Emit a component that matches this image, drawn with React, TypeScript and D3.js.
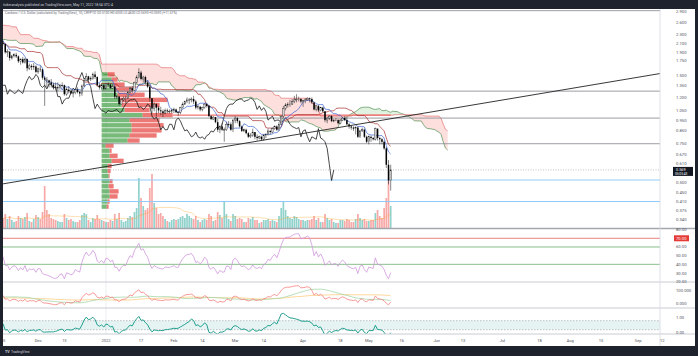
import React from 'react';
import * as d3 from 'd3';

// ---------- DATA ----------
const historyStart = '2021-08-28'; // daily closes before visible range (used for indicator look-back)
const historyClose = [
  2.88, 2.84, 2.78, 2.77,
  2.86, 2.94, 2.8, 2.87, 2.88, 2.76, 2.45, 2.52, 2.57, 2.52, 2.64, 2.57, 2.44, 2.4, 2.47, 2.42, 2.38, 2.37, 2.35, 2.16, 2.1, 2.22, 2.29, 2.28, 2.26, 2.25, 2.17, 2.1, 2.1, 2.13,
  2.24, 2.26, 2.3, 2.25, 2.25, 2.21, 2.3, 2.27, 2.27, 2.15, 2.15, 2.15, 2.16, 2.19, 2.18, 2.17, 2.12, 2.14, 2.14, 2.17, 2.13, 2.08, 2.1, 2.09, 2.18, 2.14, 1.98, 1.94, 2.0, 1.96, 1.96,
  1.97, 2.04, 1.97, 1.97, 1.98, 1.98, 2.01, 2.28, 2.25, 2.17, 2.15, 2.04, 2.08,
];

// visible candles: 2021-11-14 .. 2022-05-11
const closes = [
  2.1, 2.08, 1.91, 1.92, 1.8, 1.84, 1.86, 1.83, 1.74, 1.78, 1.72, 1.78, 1.62, 1.66, 1.64, 1.65, 1.56,
  1.61, 1.6, 1.47, 1.44, 1.43, 1.4, 1.37, 1.33, 1.32, 1.33, 1.36, 1.36, 1.24, 1.3, 1.28, 1.25, 1.26, 1.3, 1.27, 1.25, 1.35, 1.43, 1.49, 1.44, 1.46, 1.52, 1.48, 1.36, 1.33, 1.36, 1.31,
  1.38, 1.37, 1.32, 1.34, 1.21, 1.21, 1.12, 1.17, 1.19, 1.19, 1.26, 1.32, 1.29, 1.4, 1.47, 1.55, 1.45, 1.48, 1.4, 1.34, 1.19, 1.07, 1.12, 1.08, 1.05, 1.04, 1.02, 1.05, 1.04, 1.04, 1.05,
  1.06, 1.03, 1.03, 1.08, 1.12, 1.15, 1.17, 1.17, 1.18, 1.15, 1.08, 1.09, 1.06, 1.08, 1.12, 1.1, 0.99, 0.96, 0.98, 0.93, 0.86, 0.89, 0.86, 0.86, 0.91, 0.91, 0.86, 0.95,
  0.97, 0.94, 0.89, 0.85, 0.86, 0.83, 0.8, 0.81, 0.84, 0.8, 0.79, 0.8, 0.78, 0.81, 0.82, 0.85, 0.84, 0.87, 0.89, 0.86, 0.91, 0.99, 1.07, 1.11, 1.12, 1.12, 1.15, 1.17, 1.18, 1.18, 1.15,
  1.16, 1.17, 1.19, 1.18, 1.14, 1.06, 1.1, 1.05, 1.08, 1.04, 0.95, 0.97, 0.99, 0.94, 0.95, 0.95, 0.92, 0.95, 0.97, 0.95, 0.91, 0.89, 0.88, 0.87, 0.88, 0.8, 0.85, 0.86, 0.8, 0.76,
  0.8, 0.79, 0.78, 0.87, 0.79, 0.78, 0.76, 0.71, 0.6, 0.51, 0.569,
];
const highs = [
  2.13, 2.16, 2.09, 1.97, 1.93, 1.86, 1.89, 1.9, 1.85, 1.79, 1.82, 1.8, 1.79, 1.7, 1.69, 1.71, 1.67,
  1.63, 1.66, 1.61, 1.49, 1.48, 1.44, 1.45, 1.4, 1.4, 1.4, 1.38, 1.4, 1.37, 1.33, 1.35, 1.31, 1.29, 1.32, 1.33, 1.28, 1.37, 1.46, 1.54, 1.5, 1.49, 1.55, 1.57, 1.49, 1.39, 1.38, 1.38,
  1.39, 1.4, 1.38, 1.37, 1.35, 1.23, 1.22, 1.19, 1.21, 1.22, 1.28, 1.34, 1.35, 1.41, 1.51, 1.62, 1.58, 1.5, 1.5, 1.43, 1.37, 1.19, 1.14, 1.13, 1.1, 1.09, 1.06, 1.07, 1.07, 1.06, 1.07,
  1.08, 1.07, 1.04, 1.09, 1.14, 1.16, 1.2, 1.19, 1.2, 1.22, 1.17, 1.11, 1.1, 1.09, 1.13, 1.13, 1.11, 1.0, 0.99, 0.98, 0.96, 0.9, 0.92, 0.88, 0.93, 0.94, 0.93, 0.96,
  0.99, 0.98, 0.95, 0.9, 0.87, 0.87, 0.84, 0.83, 0.87, 0.84, 0.82, 0.81, 0.81, 0.82, 0.83, 0.87, 0.86, 0.88, 0.9, 0.9, 0.93, 1.0, 1.1, 1.13, 1.14, 1.17, 1.18, 1.22, 1.24, 1.21, 1.19,
  1.17, 1.19, 1.2, 1.2, 1.2, 1.14, 1.11, 1.11, 1.09, 1.09, 1.04, 0.98, 1.0, 1.0, 0.96, 0.97, 0.96, 0.96, 0.98, 0.99, 0.98, 0.92, 0.9, 0.89, 0.89, 0.89, 0.86, 0.88, 0.87, 0.81,
  0.81, 0.81, 0.8, 0.88, 0.87, 0.8, 0.79, 0.77, 0.72, 0.63, 0.6,
];
const lows = [
  2.02, 2.05, 1.88, 1.82, 1.75, 1.77, 1.81, 1.8, 1.71, 1.68, 1.7, 1.7, 1.57, 1.59, 1.59, 1.59, 1.54,
  1.53, 1.56, 1.44, 1.1, 1.33, 1.33, 1.33, 1.3, 1.29, 1.28, 1.3, 1.33, 1.22, 1.22, 1.25, 1.24, 1.2, 1.24, 1.25, 1.21, 1.22, 1.34, 1.42, 1.41, 1.42, 1.44, 1.45, 1.34, 1.3, 1.3, 1.29,
  1.3, 1.34, 1.31, 1.31, 1.18, 1.18, 1.1, 1.12, 1.15, 1.13, 1.18, 1.25, 1.26, 1.28, 1.38, 1.46, 1.43, 1.4, 1.37, 1.32, 1.15, 1.02, 1.04, 0.99, 1.02, 1.0, 0.98, 1.01, 1.02, 1.02, 1.02,
  1.02, 1.02, 0.99, 1.01, 1.07, 1.11, 1.13, 1.12, 1.14, 1.12, 1.06, 1.06, 1.04, 1.04, 1.07, 1.08, 0.98, 0.95, 0.95, 0.92, 0.84, 0.83, 0.85, 0.76, 0.85, 0.89, 0.85, 0.84,
  0.92, 0.92, 0.88, 0.84, 0.84, 0.82, 0.79, 0.79, 0.8, 0.78, 0.77, 0.78, 0.77, 0.77, 0.79, 0.81, 0.82, 0.83, 0.86, 0.85, 0.85, 0.9, 0.97, 1.05, 1.08, 1.09, 1.11, 1.13, 1.14, 1.15, 1.13,
  1.09, 1.13, 1.16, 1.14, 1.12, 1.05, 1.04, 1.03, 1.04, 1.03, 0.93, 0.92, 0.95, 0.93, 0.93, 0.94, 0.91, 0.91, 0.94, 0.94, 0.9, 0.87, 0.86, 0.85, 0.82, 0.79, 0.79, 0.84, 0.79, 0.75,
  0.74, 0.76, 0.77, 0.77, 0.77, 0.74, 0.74, 0.7, 0.58, 0.49, 0.46,
];
const volumes = [
  8, 10, 14, 9, 12, 8, 6, 7, 12, 10, 9, 11, 15, 7, 6, 9, 13,
  11, 9, 16, 42, 18, 14, 10, 9, 8, 7, 6, 6, 14, 10, 8, 9, 7, 6, 6, 8, 13, 15, 14, 8, 6, 10, 9, 13, 9, 8, 7,
  6, 6, 8, 7, 14, 9, 15, 8, 6, 7, 10, 12, 11, 16, 20, 50, 30, 22, 18, 20, 40, 54, 25, 20, 14, 15, 12, 9, 7, 6, 8,
  9, 8, 9, 11, 12, 10, 14, 12, 10, 9, 12, 8, 6, 8, 9, 8, 14, 12, 7, 8, 16, 13, 10, 26, 14, 9, 7, 14,
  12, 9, 10, 9, 6, 6, 10, 9, 11, 8, 8, 5, 6, 8, 8, 9, 7, 8, 7, 6, 12, 20, 27, 18, 12, 10, 9, 12, 11, 9, 8,
  8, 7, 8, 8, 9, 12, 8, 10, 6, 6, 14, 10, 8, 9, 6, 5, 5, 8, 8, 7, 9, 8, 6, 6, 9, 14, 10, 8, 9, 7,
  7, 8, 8, 15, 18, 12, 10, 20, 30, 47, 22,
];

// fixed-range volume profile (rows from top price to bottom price)
const profileStart = '2021-12-30';
const profileTop = 1.56;
const profileBottom = 0.38;
const profileUp = [6, 10, 12, 14, 16, 18, 20, 23, 41, 28, 30, 30, 28, 26, 4, 8, 8, 10, 6, 6, 7, 8, 7, 8, 8, 6, 5];
const profileDown = [7, 6, 11, 17, 27, 48, 38, 25, 30, 30, 32, 30, 27, 12, 8, 2, 8, 12, 4, 3, 1, 3, 5, 9, 8, 2, 2];

// drawings
const hLevels = [2.93, 1.28, 0.97, 0.745];
const blueLevels = [0.513, 0.411];
const trendLine = [
  { date: '2021-11-15', price: 0.493 },
  { date: '2022-09-12', price: 1.54 },
];
const lastPrice = 0.569;

// axes
const priceTicks = [2.9, 2.6, 2.3, 2.1, 1.9, 1.75, 1.5, 1.35, 1.2, 1.05, 0.95, 0.85, 0.75, 0.67, 0.61, 0.5, 0.45, 0.41, 0.375, 0.34];
const rsiTicks = [80, 60, 50, 40, 30, 20];
const rsiLevelsRed = [70];
const rsiLevelsGreen = [60, 40];
const oscTicks = [100, 0];
const pbTicks = [1, 0];
const pbBand = [0.8, 0.2];
const timeTicks: [string, string][] = [
  ['2021-11-15', '15'], ['2021-12-01', 'Dec'], ['2021-12-13', '13'], ['2022-01-01', '2022'], ['2022-01-17', '17'],
  ['2022-02-01', 'Feb'], ['2022-02-14', '14'], ['2022-03-01', 'Mar'], ['2022-03-14', '14'], ['2022-04-01', 'Apr'],
  ['2022-04-18', '18'], ['2022-05-01', 'May'], ['2022-05-16', '16'], ['2022-06-01', 'Jun'], ['2022-06-13', '13'],
  ['2022-07-01', 'Jul'], ['2022-07-18', '18'], ['2022-08-01', 'Aug'], ['2022-08-15', '15'], ['2022-09-01', 'Sep'], ['2022-09-12', '12'],
];

const headerText = 'tickeranalysis published on TradingView.com, May 11, 2022 18:54 UTC-4';
const legendText = 'Cardano / U.S. Dollar (calculated by TradingView), 1D, CRYPTO   O0.5100 H0.6000 L0.4600 C0.5690 +0.0590 (+11.57%)';

// ---------- HELPERS ----------
const DAY = 86400000;
const parse = (s: string) => new Date(s + 'T00:00:00Z');

function rsiCalc(c: number[], n: number) {
  const out = new Array(c.length).fill(NaN);
  let ag = 0, al = 0;
  for (let i = 1; i < c.length; i++) {
    const d = c[i] - c[i - 1];
    const g = Math.max(d, 0), l = Math.max(-d, 0);
    if (i <= n) {
      ag += g / n; al += l / n;
      if (i === n) out[i] = al === 0 ? 100 : 100 - 100 / (1 + ag / al);
    } else {
      ag = (ag * (n - 1) + g) / n; al = (al * (n - 1) + l) / n;
      out[i] = al === 0 ? 100 : 100 - 100 / (1 + ag / al);
    }
  }
  return out;
}
function sma(a: number[], n: number) {
  return a.map((_, i) => {
    if (i < n - 1) return NaN;
    const w = a.slice(i - n + 1, i + 1);
    if (w.some((v) => !Number.isFinite(v))) return NaN;
    return d3.mean(w) as number;
  });
}
function midHL(h: number[], l: number[], n: number) {
  return h.map((_, i) => (i < n - 1 ? NaN : ((d3.max(h.slice(i - n + 1, i + 1)) as number) + (d3.min(l.slice(i - n + 1, i + 1)) as number)) / 2));
}

export default function App() {
  const H0 = historyClose.length;
  const allC = historyClose.concat(closes);
  const allH = historyClose.concat(highs);
  const allL = historyClose.concat(lows);
  const N = allC.length;
  const t0 = parse(historyStart).getTime();
  const dateAt = (i: number) => new Date(t0 + i * DAY);

  const L = 3, R = 660;
  const x = d3.scaleUtc().domain([parse('2022-01-01'), parse('2022-09-12')]).range([106, 106 + 254 * 2.19]);
  const xi = (i: number) => x(dateAt(i));
  const yP = d3.scaleLog().domain([0.313, 2.95]).range([228, 10]);
  const yV = d3.scaleLinear().domain([0, 55]).range([228, 173]);
  const yR = d3.scaleLinear().domain([20.8, 80.7]).range([281, 229]);
  const yO = d3.scaleLinear().domain([20, 80]).range([306, 284]);
  const yOlab = d3.scaleLinear().domain([0, 100]).range([303, 290]);
  const yB = d3.scaleLinear().domain([0, 1]).range([332.7, 317.7]);

  // indicators
  const tenkan = midHL(allH, allL, 9);
  const kijun = midHL(allH, allL, 26);
  const spanA = tenkan.map((t, i) => (t + kijun[i]) / 2);
  const spanB = midHL(allH, allL, 52);
  const rsi = rsiCalc(allC, 14);
  const rsiFast = sma(rsi, 20);
  const rsiSlow = sma(rsi, 50);
  const basis = sma(allC, 20);
  const pctB = allC.map((c, i) => {
    if (i < 19) return NaN;
    const w = allC.slice(i - 19, i + 1);
    const sd = Math.sqrt(d3.mean(w.map((v) => (v - basis[i]) ** 2)) as number);
    return (c - (basis[i] - 2 * sd)) / (4 * sd);
  });
  const volMA = volumes.map((_, i) => d3.mean(volumes.slice(Math.max(0, i - 19), i + 1)) as number);

  const vis = d3.range(H0, N);
  const mk = (idx: number[], xf: (i: number) => number, yf: (i: number) => number) =>
    d3.line<number>().defined((i) => Number.isFinite(yf(i))).x(xf).y(yf)(idx) || '';

  // cloud (shifted forward 26)
  const cloudIdx = d3.range(H0 - 1, N + 26);
  const cA = (p: number) => spanA[p - 26];
  const cB = (p: number) => spanB[p - 26];
  const cloudDef = (p: number) => Number.isFinite(cA(p)) && Number.isFinite(cB(p));
  const greenCloud = d3.area<number>().defined(cloudDef).x(xi).y0((p) => yP(cB(p))).y1((p) => yP(Math.max(cA(p), cB(p))))(cloudIdx) || '';
  const pinkCloud = d3.area<number>().defined(cloudDef).x(xi).y0((p) => yP(cA(p))).y1((p) => yP(Math.max(cA(p), cB(p))))(cloudIdx) || '';

  // profile
  const nRows = profileUp.length;
  const lt = Math.log(profileTop), lb = Math.log(profileBottom);
  const edges = d3.range(nRows + 1).map((k) => Math.exp(lt + ((lb - lt) * k) / nRows));
  const totals = profileUp.map((u, k) => u + profileDown[k]);
  const wS = d3.scaleLinear().domain([0, d3.max(totals) as number]).range([0, 71]);
  const px0 = x(parse(profileStart));
  const poc = totals.indexOf(d3.max(totals) as number);
  const pocY = (yP(edges[poc]) + yP(edges[poc + 1])) / 2;

  const font = 'Roboto, "Liberation Sans", sans-serif';
  const axisCol = '#50535e';
  const bw = 1.5;

  return (
    <svg width={698} height={356} style={{ position: 'absolute', left: 0, top: 0, background: '#fff' }} fontFamily={font}>
      <defs>
        <clipPath id="cMain"><rect x={L} y={10} width={R - L} height={218} /></clipPath>
        <clipPath id="cRsi"><rect x={L} y={229} width={R - L} height={52} /></clipPath>
        <clipPath id="cOsc"><rect x={L} y={283} width={R - L} height={24} /></clipPath>
        <clipPath id="cPb"><rect x={L} y={309} width={R - L} height={25} /></clipPath>
      </defs>
      <rect x={0} y={0} width={698} height={356} fill="#fff" />

      {/* year separator */}
      <line x1={x(parse('2022-01-01'))} x2={x(parse('2022-01-01'))} y1={9} y2={334} stroke="#e6e8ee" strokeWidth={0.8} />

      {/* ---------- main pane ---------- */}
      <g clipPath="url(#cMain)">
        {/* volume */}
        {vis.map((i) => {
          const k = i - H0;
          const up = allC[i] >= allC[i - 1];
          return (
            <rect key={'v' + i} x={xi(i) - 0.85} y={yV(volumes[k])} width={1.7} height={228 - yV(volumes[k])}
              fill={up ? 'rgba(38,166,154,0.5)' : 'rgba(239,83,80,0.5)'} />
          );
        })}
        <path d={mk(vis, xi, (i) => yV(volMA[i - H0]))} fill="none" stroke="rgba(255,152,0,0.45)" strokeWidth={0.7} />

        {/* cloud */}
        <path d={pinkCloud} fill="rgba(244,67,54,0.17)" />
        <path d={greenCloud} fill="rgba(76,175,80,0.17)" />
        <path d={mk(cloudIdx, xi, (p) => yP(cA(p)))} fill="none" stroke="#4f8f50" strokeWidth={0.7} />
        <path d={mk(cloudIdx, xi, (p) => yP(cB(p)))} fill="none" stroke="#e57373" strokeWidth={0.7} />

        {/* volume profile */}
        {profileUp.map((u, k) => {
          const yt = yP(edges[k]) + 0.35;
          const h = yP(edges[k + 1]) - yP(edges[k]) - 0.7;
          return (
            <g key={'pr' + k}>
              <rect x={px0} y={yt} width={wS(u)} height={h} fill="rgba(67,160,71,0.72)" />
              <rect x={px0 + wS(u)} y={yt} width={wS(profileDown[k])} height={h} fill="rgba(229,57,53,0.68)" />
            </g>
          );
        })}
        <line x1={px0 + wS(totals[poc])} x2={xi(N - 1)} y1={pocY} y2={pocY} stroke="#ef5350" strokeWidth={1} />

        {/* levels */}
        {hLevels.map((p) => <line key={'h' + p} x1={L} x2={R} y1={yP(p)} y2={yP(p)} stroke="#8f929b" strokeWidth={0.9} />)}
        {blueLevels.map((p) => <line key={'b' + p} x1={L} x2={R} y1={yP(p)} y2={yP(p)} stroke="#90caf9" strokeWidth={1} />)}
        <line x1={L} x2={R} y1={yP(lastPrice)} y2={yP(lastPrice)} stroke="#9598a1" strokeWidth={0.6} strokeDasharray="1 1.5" />

        {/* ichimoku lines */}
        <path d={mk(d3.range(H0, N + 26), (i) => xi(i - 26), (i) => (i < N ? yP(allC[i]) : NaN))} fill="none" stroke="#1a1a1a" strokeWidth={0.8} />
        <path d={mk(vis, xi, (i) => yP(kijun[i]))} fill="none" stroke="#a52a2a" strokeWidth={0.7} />
        <path d={mk(vis, xi, (i) => yP(tenkan[i]))} fill="none" stroke="#3b63d4" strokeWidth={0.7} />

        {/* candles */}
        {vis.map((i) => {
          const o = allC[i - 1], c = allC[i];
          const k = i - H0;
          const hi = Math.max(highs[k], o, c), lo = Math.min(lows[k], o, c);
          const up = c >= o;
          const cx = xi(i);
          const yt = yP(Math.max(o, c)), yb = yP(Math.min(o, c));
          return (
            <g key={'c' + i}>
              <line x1={cx} x2={cx} y1={yP(hi)} y2={yP(lo)} stroke="#111" strokeWidth={0.5} />
              <rect x={cx - bw / 2} y={yt} width={bw} height={Math.max(0.6, yb - yt)}
                fill={up ? '#d8d8d8' : '#000'} stroke="#111" strokeWidth={up ? 0.35 : 0} />
            </g>
          );
        })}

        {/* trend line */}
        <line x1={x(parse(trendLine[0].date))} y1={yP(trendLine[0].price)} x2={x(parse(trendLine[1].date))} y2={yP(trendLine[1].price)}
          stroke="#222" strokeWidth={0.9} />
      </g>

      {/* ---------- RSI pane ---------- */}
      <g clipPath="url(#cRsi)">
        {rsiLevelsRed.map((v) => <line key={'rr' + v} x1={L} x2={R} y1={yR(v)} y2={yR(v)} stroke="#e57373" strokeWidth={0.9} />)}
        {rsiLevelsGreen.map((v) => <line key={'rg' + v} x1={L} x2={R} y1={yR(v)} y2={yR(v)} stroke="#7cb87e" strokeWidth={0.9} />)}
        <path d={mk(vis, xi, (i) => yR(rsi[i]))} fill="none" stroke="#cf98dc" strokeWidth={0.8} />
      </g>

      {/* ---------- oscillator pane ---------- */}
      <g clipPath="url(#cOsc)">
        <path d={mk(vis, xi, (i) => yO(rsiSlow[i]))} fill="none" stroke="#ffcc80" strokeWidth={0.8} />
        <path d={mk(vis, xi, (i) => yO(rsiFast[i]))} fill="none" stroke="#a5d6a7" strokeWidth={0.8} />
        <path d={mk(vis, xi, (i) => yO(rsi[i]))} fill="none" stroke="#f4817f" strokeWidth={0.8} />
      </g>

      {/* ---------- %B pane ---------- */}
      <g clipPath="url(#cPb)">
        <rect x={L} y={yB(pbBand[0])} width={R - L} height={yB(pbBand[1]) - yB(pbBand[0])} fill="rgba(38,166,154,0.12)" />
        {pbBand.map((v) => <line key={'pb' + v} x1={L} x2={R} y1={yB(v)} y2={yB(v)} stroke="#9598a1" strokeWidth={0.6} strokeDasharray="1.5 1.5" />)}
        <path d={mk(vis, xi, (i) => yB(pctB[i]))} fill="none" stroke="#22a08f" strokeWidth={1} />
      </g>

      {/* pane separators */}
      <line x1={L} x2={695} y1={228.5} y2={228.5} stroke="#a3a6af" strokeWidth={1.6} />
      <line x1={L} x2={695} y1={282} y2={282} stroke="#c9ccd4" strokeWidth={1} />
      <line x1={L} x2={695} y1={308} y2={308} stroke="#c9ccd4" strokeWidth={1} />
      <line x1={L} x2={695} y1={334} y2={334} stroke="#c9ccd4" strokeWidth={1} />
      <line x1={R} x2={R} y1={9} y2={346} stroke="#d6d8de" strokeWidth={0.8} />

      {/* price axis */}
      <g fontSize={4.2} fill={axisCol}>
        {priceTicks.map((p) => <text key={'pt' + p} x={676} y={yP(p) + 1.5}>{p.toFixed(3)}</text>)}
      </g>
      <rect x={673} y={yP(lastPrice) - 3} width={20} height={9} fill="#131722" />
      <text x={676} y={yP(lastPrice) + 0.8} fontSize={3.8} fill="#fff">{lastPrice.toFixed(3)}</text>
      <text x={675} y={yP(lastPrice) + 4.8} fontSize={3.2} fill="#fff">05:05:43</text>

      <g fontSize={4.2} fill={axisCol}>
        {rsiTicks.map((v) => <text key={'rt' + v} x={676} y={yR(v) + 1.5}>{v.toFixed(2)}</text>)}
      </g>
      <rect x={674} y={yR(70) - 3} width={15} height={6} fill="#e53935" />
      <text x={676} y={yR(70) + 1.5} fontSize={4.2} fill="#fff">70.00</text>
      <g fontSize={4.2} fill={axisCol}>
        {oscTicks.map((v) => <text key={'ot' + v} x={676} y={yOlab(v) + 1.5}>{v.toFixed(3)}</text>)}
        {pbTicks.map((v) => <text key={'bt' + v} x={676} y={yB(v) + 1.5}>{v.toFixed(2)}</text>)}
      </g>

      {/* time axis */}
      <g fontSize={4} fill={axisCol} textAnchor="middle">
        {timeTicks.map(([d, s]) => <text key={'tt' + d} x={x(parse(d))} y={342}>{s}</text>)}
      </g>

      {/* legend */}
      <text x={5} y={13.5} fontSize={3.6} fill="#6a6d78" textLength={172} lengthAdjust="spacingAndGlyphs">{legendText}</text>

      {/* frame */}
      <rect x={0} y={0} width={698} height={9} fill="#1e222d" />
      <text x={3} y={6} fontSize={3.4} fill="#d1d4dc" textLength={110} lengthAdjust="spacingAndGlyphs">{headerText}</text>
      <rect x={0} y={0} width={3} height={356} fill="#1e222d" />
      <rect x={695} y={0} width={3} height={356} fill="#1e222d" />
      <rect x={0} y={346} width={698} height={10} fill="#1e222d" />
      <text x={5} y={353} fontSize={3.6} fill="#d1d4dc" fontWeight="bold">TV</text>
      <text x={11} y={353} fontSize={3.4} fill="#d1d4dc">TradingView</text>
    </svg>
  );
}
